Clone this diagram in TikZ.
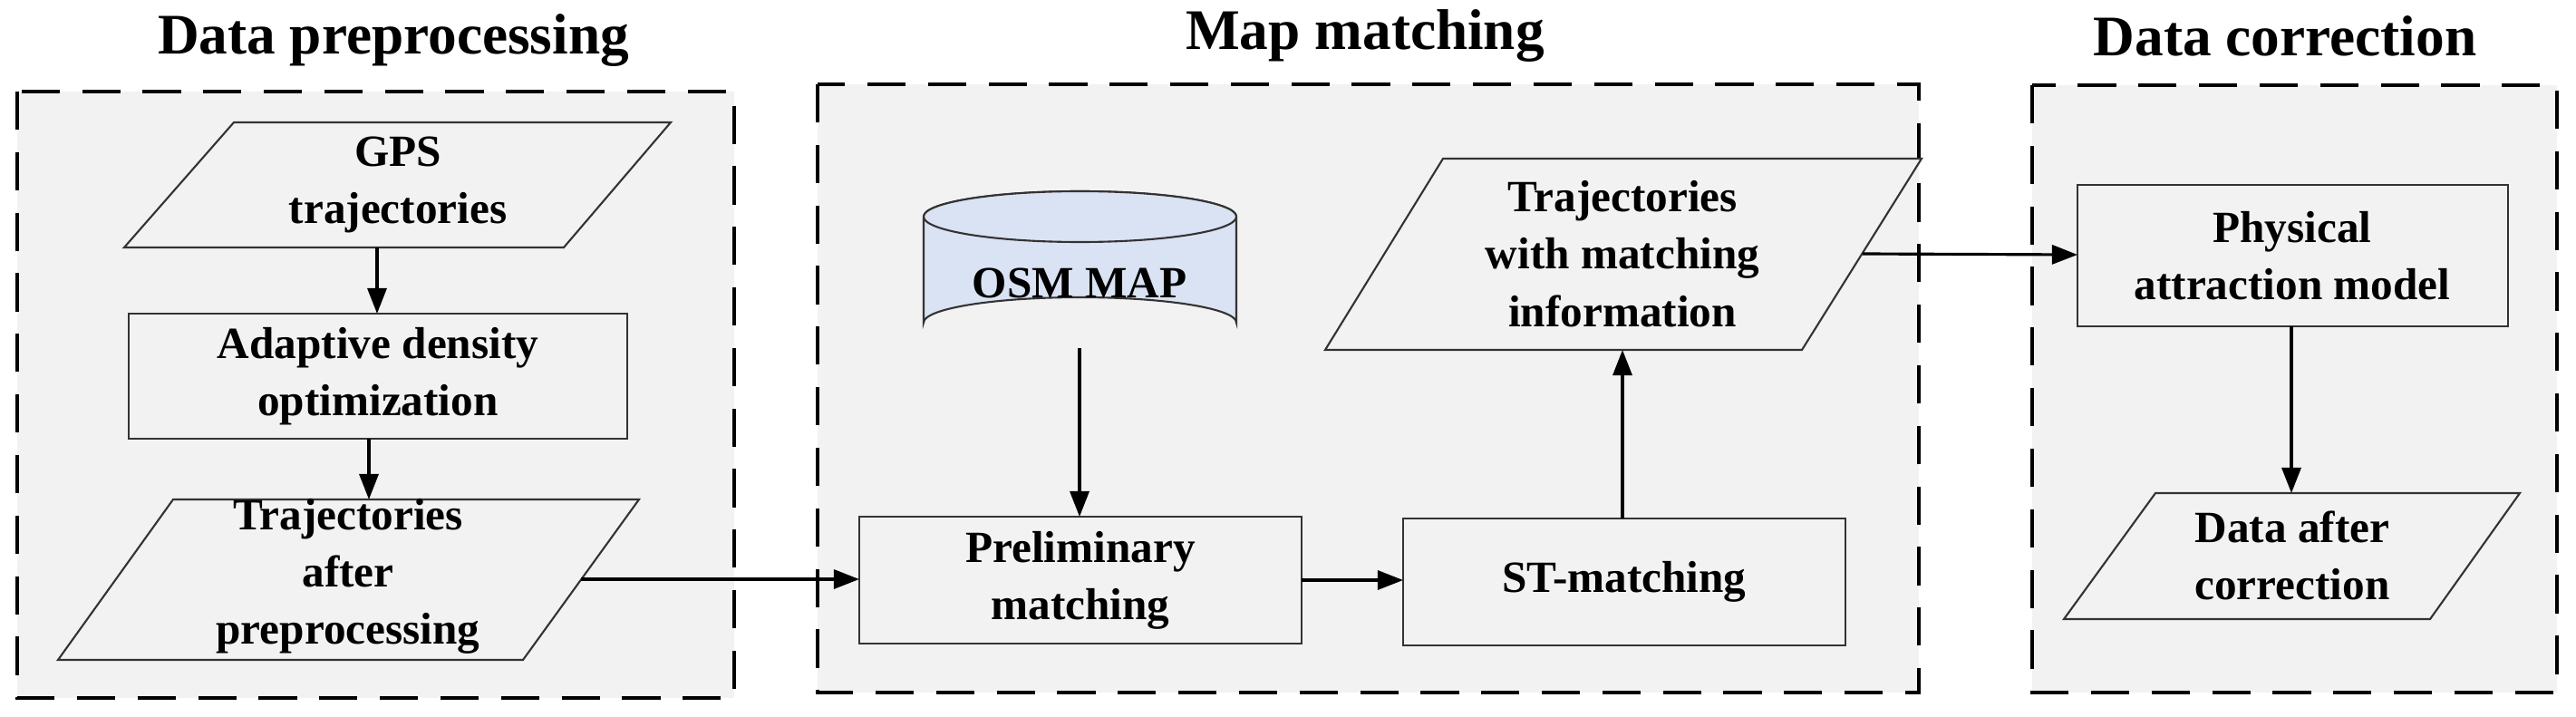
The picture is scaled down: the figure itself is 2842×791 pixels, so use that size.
\documentclass[tikz,border=0pt]{standalone}
\usepackage{fontspec}
\setmainfont{Liberation Serif}
\usetikzlibrary{arrows.meta,shapes.geometric}
\definecolor{bg}{HTML}{F2F2F2}
\definecolor{db}{HTML}{DAE3F3}
\begin{document}
\begin{tikzpicture}[x=0.01cm,y=-0.01cm,
  grp/.style={draw=black,fill=bg,line width=1pt,dash pattern=on 12pt off 7pt},
  shp/.style={draw=black!80,fill=bg,line width=0.6pt},
  txt/.style={align=center,font=\fontsize{14}{18}\selectfont\bfseries},
  ttl/.style={font=\fontsize{18}{22}\selectfont\bfseries},
  arr/.style={-{Triangle[length=8pt,width=6pt]},line width=0.9pt}]
\useasboundingbox (0,0) rectangle (2842,791);
\fill[white] (0,0) rectangle (2842,791);
% groups
\draw[grp] (19,101) rectangle (810,770);
\draw[grp] (902,93) rectangle (2117,764);
\draw[grp] (2242,94) rectangle (2821,764);
\node[ttl] (t1) at (434,45) {Data preprocessing};
\node[ttl] (t2) at (1506,40) {Map matching};
\node[ttl] (t3) at (2521,40) {Data correction};
% left
\draw[shp] (258,135) -- (740,135) -- (622,273) -- (137,273) -- cycle;
\node[txt] (gps) at (439,204) {GPS\\trajectories};
\draw[shp] (142,346) rectangle (692,484);
\node[txt] (ado) at (417,415) {Adaptive density\\optimization};
\draw[shp] (191,551) -- (705,551) -- (577,728) -- (64,728) -- cycle;
\node[txt] (tap) at (384,636) {Trajectories\\after\\preprocessing};
% middle
\draw[shp,fill=db] (1019,239) -- (1019,356) arc[start angle=180,end angle=360,x radius=172.5,y radius=28] -- (1364,239) arc[start angle=0,end angle=-180,x radius=172.5,y radius=28] -- cycle;
\draw[shp,fill=db] (1191.5,239) ellipse[x radius=172.5,y radius=28];
\node[txt] (osm) at (1191,312) {OSM MAP};
\draw[shp] (948,570) rectangle (1436,710);
\node[txt] (pre) at (1192,640) {Preliminary\\matching};
\draw[shp] (1548,572) rectangle (2036,712);
\node[txt] (st) at (1792,642) {ST-matching};
\draw[shp] (1592,175) -- (2120,175) -- (1988,386) -- (1462,386) -- cycle;
\node[txt] (twm) at (1790,280) {Trajectories\\with matching\\information};
% right
\draw[shp] (2292,204) rectangle (2767,360);
\node[txt] (phy) at (2529,282) {Physical\\attraction model};
\draw[shp] (2378,544) -- (2780,544) -- (2681,683) -- (2277,683) -- cycle;
\node[txt] (dac) at (2529,613) {Data after\\correction};
% connector end points
\coordinate (a1) at (416,273); \coordinate (b1) at (416,346);
\coordinate (a2) at (407,484); \coordinate (b2) at (407,551);
\coordinate (a3) at (641,639); \coordinate (b3) at (948,639);
\coordinate (a4) at (1191,384); \coordinate (b4) at (1191,570);
\coordinate (a5) at (1436,640); \coordinate (b5) at (1548,640);
\coordinate (a6) at (1790,572); \coordinate (b6) at (1790,386);
\coordinate (a7) at (2055,280); \coordinate (b7) at (2292,281);
\coordinate (a8) at (2528,360); \coordinate (b8) at (2528,544);
\foreach \i in {1,...,8} \draw[arr] (a\i) -- (b\i);
\end{tikzpicture}
\end{document}
